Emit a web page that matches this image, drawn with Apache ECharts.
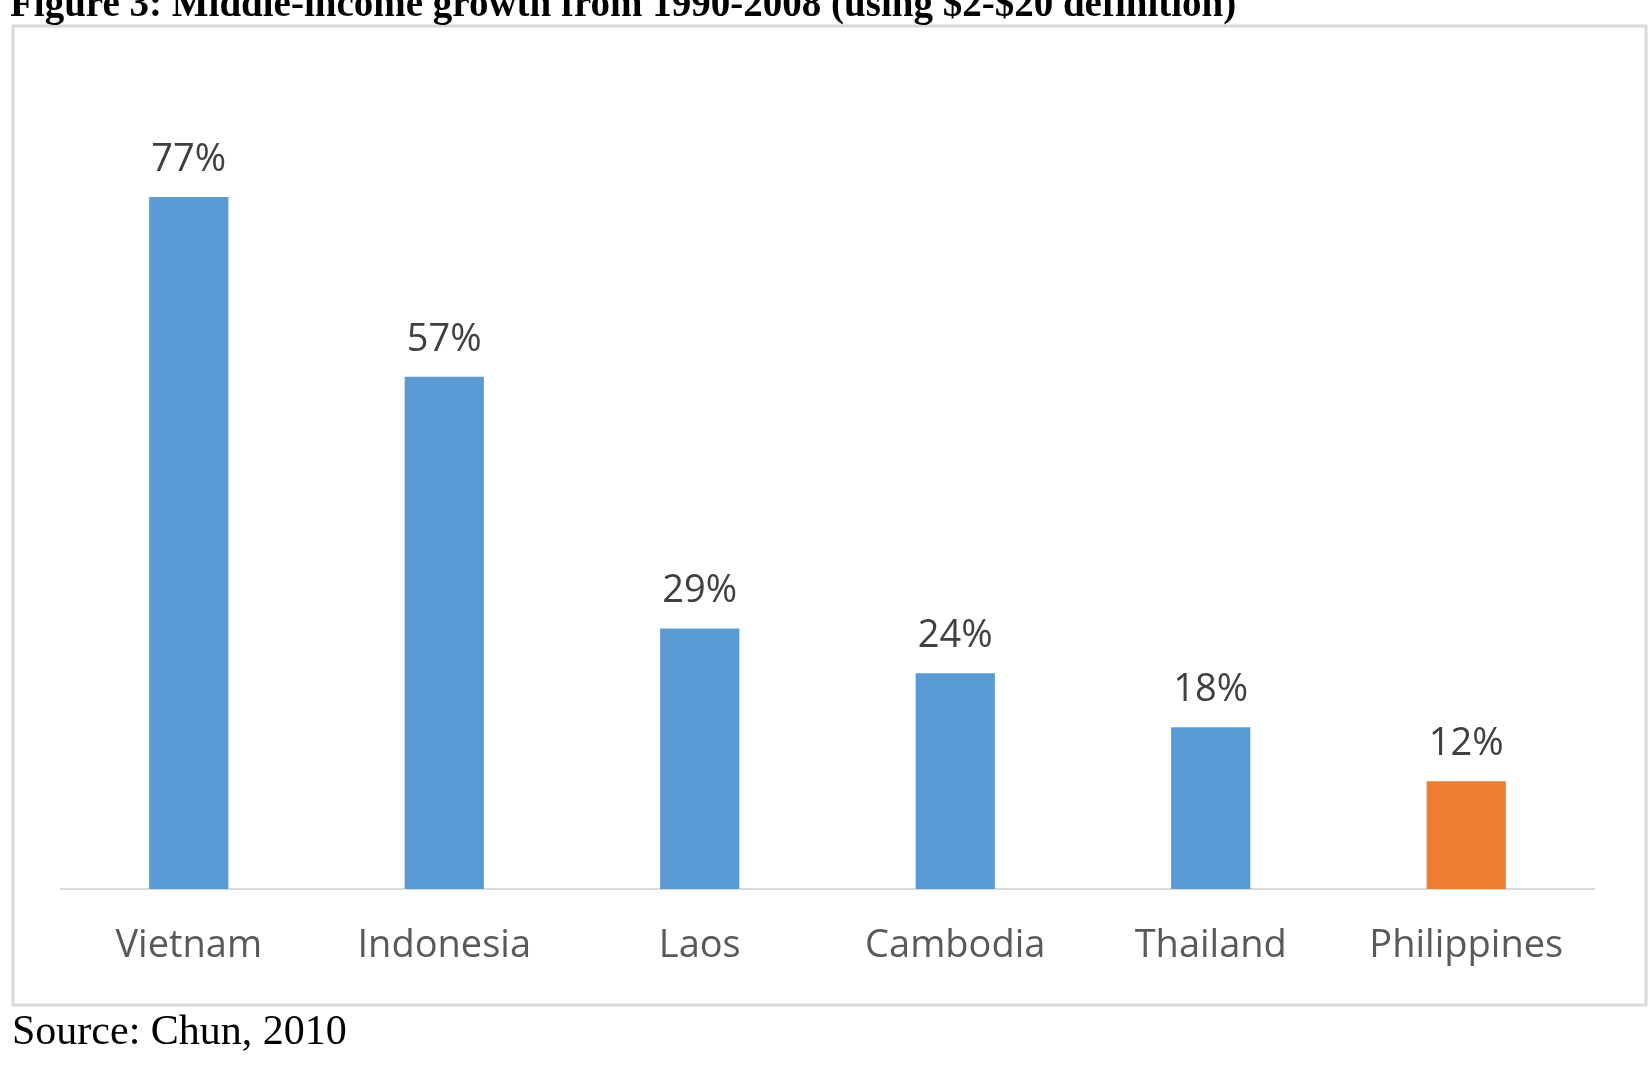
<!DOCTYPE html>
<html>
<head>
<meta charset="utf-8">
<script src="https://cdn.jsdelivr.net/npm/echarts@6/dist/echarts.min.js"></script>
<style>
  body { margin: 0; background: #fff; }
  #main { width: 1650px; height: 1078px; }
</style>
</head>
<body>
<div id="main"></div>
<script>
var countries = ['Vietnam', 'Indonesia', 'Laos', 'Cambodia', 'Thailand', 'Philippines'];
var growth = [77, 57, 29, 24, 18, 12];
var barColors = ['#5b9bd5', '#5b9bd5', '#5b9bd5', '#5b9bd5', '#5b9bd5', '#ed7d31'];

var myChart = echarts.init(document.getElementById('main'));

var option = {
  backgroundColor: '#fff',
  animation: false,
  graphic: [
    // chart border box
    { type: 'rect', shape: { x: 13, y: 26, width: 1633, height: 979 },
      style: { fill: 'none', stroke: '#d9d9d9', lineWidth: 3 } },
    { type: 'text', left: 10, top: -14,
      style: { text: 'Figure 3: Middle-income growth from 1990-2008 (using $2-$20 definition)',
        font: 'bold 39px "Liberation Serif"', fill: '#000' } },
    { type: 'text', left: 12, top: 1012,
      style: { text: 'Source: Chun, 2010', font: '42px "Liberation Serif"', fill: '#000' } }
  ],
  grid: { left: 61, right: 56, top: 100, bottom: 189 },
  xAxis: {
    type: 'category',
    data: countries,
    axisLine: { lineStyle: { color: '#d9d9d9', width: 2 } },
    axisTick: { show: false },
    axisLabel: { color: '#595959', fontSize: 38, fontFamily: 'Open Sans', margin: 38 }
  },
  yAxis: { type: 'value', min: 0, max: 87.8, show: false, splitLine: { show: false } },
  series: [{
    type: 'bar',
    barWidth: '31%',
    data: growth.map(function (v, i) {
      return { value: v, itemStyle: { color: barColors[i] } };
    }),
    label: {
      show: true, position: 'top', distance: 18,
      formatter: '{c}%', color: '#404040', fontSize: 38, fontFamily: 'Open Sans'
    }
  }]
};
myChart.setOption(option);
</script>
</body>
</html>
